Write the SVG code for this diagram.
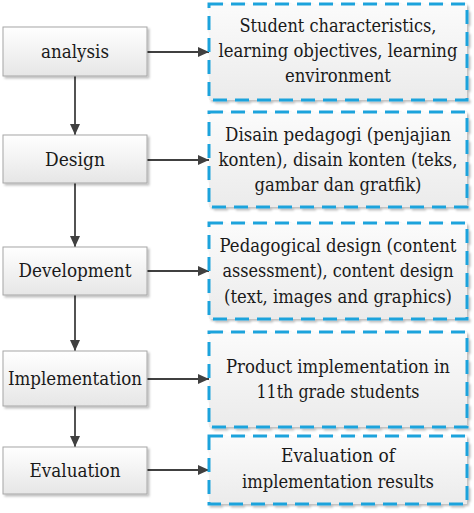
<svg xmlns="http://www.w3.org/2000/svg" width="474" height="513" viewBox="0 0 474 513">
<defs>
<linearGradient id="gl" x1="0" y1="0" x2="0" y2="1"><stop offset="0" stop-color="#ffffff"/><stop offset="1" stop-color="#e6e6e6"/></linearGradient>
<linearGradient id="gr" x1="0" y1="0" x2="0" y2="1"><stop offset="0" stop-color="#fbfbfb"/><stop offset="1" stop-color="#ebebeb"/></linearGradient>
<filter id="sh" x="-5%" y="-5%" width="115%" height="120%"><feDropShadow dx="2" dy="2" stdDeviation="1.2" flood-color="#000" flood-opacity="0.25"/></filter>
<marker id="ah" markerWidth="11" markerHeight="10" refX="11" refY="5" orient="auto" markerUnits="userSpaceOnUse"><path d="M0,0 L11,5 L0,10 z" fill="#404040"/></marker>
<style>
.l{fill:url(#gl);stroke:#a6a6a6;stroke-width:1;filter:url(#sh)}
.r{fill:url(#gr);stroke:#1fa3dc;stroke-width:3;stroke-dasharray:14 8;filter:url(#sh)}
.c line{stroke:#404040;stroke-width:1.8;marker-end:url(#ah)}
.t text{font-family:"DejaVu Serif",serif;font-size:18px;fill:#1a1a1a;text-anchor:middle}
</style>
</defs>
<rect width="474" height="513" fill="#fff"/>
<g class="c" id="connectors">
<line x1="147" y1="52" x2="209" y2="52"/>
<line x1="147" y1="160" x2="209" y2="160"/>
<line x1="147" y1="271" x2="209" y2="271"/>
<line x1="147" y1="379" x2="209" y2="379"/>
<line x1="147" y1="470" x2="209" y2="470"/>
<line x1="75" y1="76" x2="75" y2="135"/>
<line x1="75" y1="183" x2="75" y2="247"/>
<line x1="75" y1="295" x2="75" y2="351"/>
<line x1="75" y1="406" x2="75" y2="447"/>
</g>
<g class="t">
<g id="analysis"><rect class="l" x="3" y="27" width="144" height="49"/><text x="75" y="58" textLength="68" lengthAdjust="spacingAndGlyphs">analysis</text></g>
<g id="design"><rect class="l" x="3" y="135" width="144" height="48"/><text x="75" y="166" textLength="60" lengthAdjust="spacingAndGlyphs">Design</text></g>
<g id="development"><rect class="l" x="3" y="247" width="144" height="48"/><text x="75" y="277" textLength="113" lengthAdjust="spacingAndGlyphs">Development</text></g>
<g id="implementation"><rect class="l" x="3" y="351" width="144" height="55"/><text x="75" y="385" textLength="134" lengthAdjust="spacingAndGlyphs">Implementation</text></g>
<g id="evaluation"><rect class="l" x="3" y="447" width="144" height="47"/><text x="75" y="477" textLength="91" lengthAdjust="spacingAndGlyphs">Evaluation</text></g>
<g id="r1"><rect class="r" x="209" y="4" width="258" height="96"/><text x="338" y="32" textLength="197" lengthAdjust="spacingAndGlyphs">Student characteristics,</text><text x="338" y="57" textLength="239" lengthAdjust="spacingAndGlyphs">learning objectives, learning</text><text x="338" y="82" textLength="106" lengthAdjust="spacingAndGlyphs">environment</text></g>
<g id="r2"><rect class="r" x="209" y="112" width="258" height="95"/><text x="338" y="141" textLength="226" lengthAdjust="spacingAndGlyphs">Disain pedagogi (penjajian</text><text x="338" y="166" textLength="239" lengthAdjust="spacingAndGlyphs">konten), disain konten (teks,</text><text x="338" y="191" textLength="167" lengthAdjust="spacingAndGlyphs">gambar dan gratfik)</text></g>
<g id="r3"><rect class="r" x="209" y="223" width="258" height="96"/><text x="338" y="252" textLength="237" lengthAdjust="spacingAndGlyphs">Pedagogical design (content</text><text x="338" y="277" textLength="231" lengthAdjust="spacingAndGlyphs">assessment), content design</text><text x="338" y="303" textLength="228" lengthAdjust="spacingAndGlyphs">(text, images and graphics)</text></g>
<g id="r4"><rect class="r" x="209" y="332" width="258" height="95"/><text x="338" y="373" textLength="224" lengthAdjust="spacingAndGlyphs">Product implementation in</text><text x="338" y="398" textLength="163" lengthAdjust="spacingAndGlyphs">11th grade students</text></g>
<g id="r5"><rect class="r" x="209" y="436" width="258" height="68"/><text x="338" y="462" textLength="114" lengthAdjust="spacingAndGlyphs">Evaluation of</text><text x="338" y="488" textLength="192" lengthAdjust="spacingAndGlyphs">implementation results</text></g>
</g>
</svg>
